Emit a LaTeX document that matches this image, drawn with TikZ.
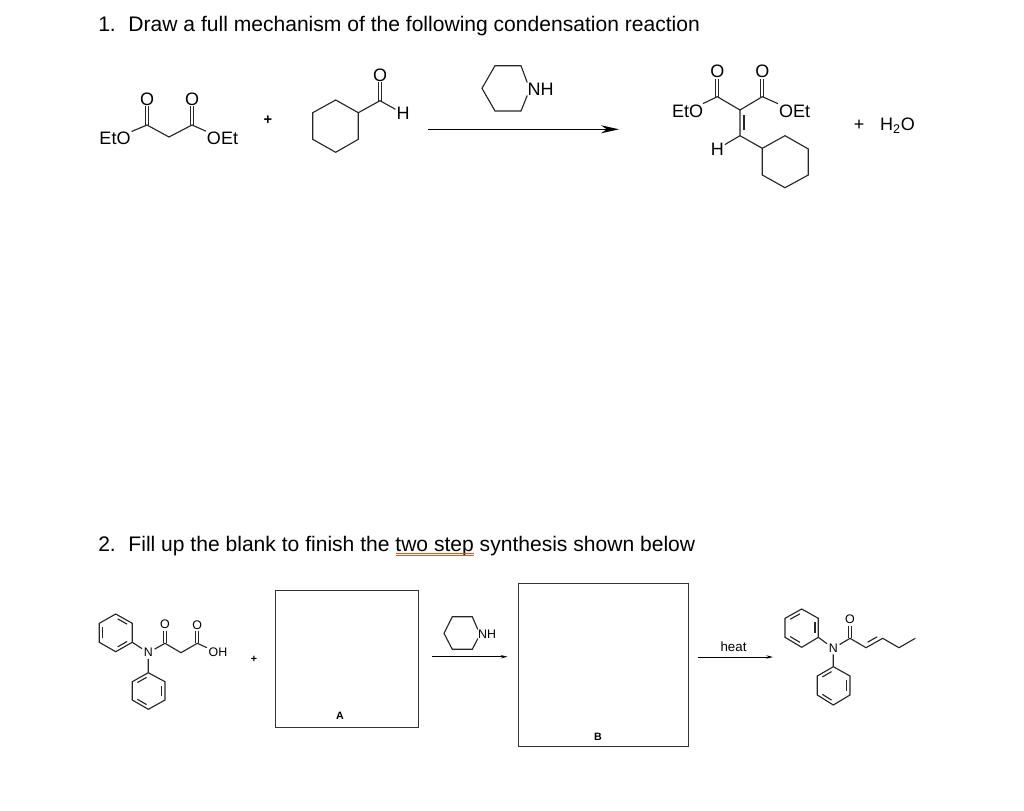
\documentclass[tikz,border=0pt]{standalone}
\usepackage{fontspec}
\setmainfont{Liberation Sans}
\usetikzlibrary{arrows.meta,calc,positioning}
\definecolor{spellred}{RGB}{215,90,30}
\tikzset{
    bond/.style={line width=0.85pt, black!85},
    dblbond/.style={line width=0.7pt, black!85, double, double distance=1.6pt},
    atom/.style={inner sep=0.6pt, font=\fontsize{13.5}{14}\selectfont},
    smallatom/.style={inner sep=1.2pt, font=\fontsize{9.3}{10}\selectfont},
    heading/.style={anchor=west, inner sep=0pt, font=\fontsize{15.8}{17}\selectfont},
    blankbox/.style={draw=black!80, line width=0.85pt, inner sep=0pt, anchor=north west},
    boxlabel/.style={inner sep=0pt, font=\bfseries\fontsize{8}{9}\selectfont},
    bigarrow/.style={line width=1pt, -{Stealth[length=13.5pt,width=6pt]}},
    smallarrow/.style={line width=0.7pt, -{Stealth[length=5pt,width=2.5pt]}},
}
% inner line of a double bond: ends, then the point it leans to
\newcommand{\innerbond}[3]{\draw[bond] ($(#1)!0.14!(#2)!0.2!(#3)$) -- ($(#2)!0.14!(#1)!0.2!(#3)$);}
\begin{document}
\begin{tikzpicture}[x=0.75pt,y=-0.75pt]
    \useasboundingbox (0,0) rectangle (1024,810);

    \node[heading] (title1) at (98,26.5) {1.\hspace{0.6em}Draw a full mechanism of the following condensation reaction};
    \node[heading] (title2) at (98,546) {2.\hspace{0.6em}Fill up the blank to finish the two step synthesis shown below};
    \draw[spellred, line width=0.8pt] (396,553.4) -- (474,553.4);
    \draw[spellred, line width=0.8pt] (396,555.6) -- (474,555.6);

    % malonate
    \coordinate (mc1) at (147,125);
    \coordinate (mch) at (169,137);
    \coordinate (mc2) at (192,125);
    \node[atom] (mo1) at (147,99) {O};
    \node[atom] (mo2) at (192,99) {O};
    \node[atom] (meto) at (115,138.5) {EtO};
    \node[atom] (moet) at (222.5,138.5) {OEt};
    \draw[dblbond] (mc1) -- (mo1);
    \draw[dblbond] (mc2) -- (mo2);
    \draw[bond] (meto) -- (mc1) -- (mch) -- (mc2) -- (moet);
    \node[inner sep=0pt, font=\bfseries\fontsize{11}{12}\selectfont] (plus1) at (268,120) {+};

    % aldehyde
    \coordinate (a1) at (335.7,100);
    \coordinate (a2) at (358.3,112.7);
    \coordinate (a3) at (358.3,139.3);
    \coordinate (a4) at (335.7,152.3);
    \coordinate (a5) at (312.7,139.3);
    \coordinate (a6) at (312.7,112.7);
    \coordinate (ac) at (380,100.7);
    \node[atom] (ao) at (380,75) {O};
    \node[atom] (ah) at (403,113.5) {H};
    \draw[dblbond] (ac) -- (ao);
    \draw[bond] (a1) -- (a2) -- (a3) -- (a4) -- (a5) -- (a6) -- cycle;
    \draw[bond] (a2) -- (ac) -- (ah);

    % piperidine, top arrow
    \coordinate (p1) at (495,65.7);
    \coordinate (p2) at (521,65.7);
    \coordinate (p3) at (521,111);
    \coordinate (p4) at (495,111);
    \coordinate (p5) at (482,88.3);
    \node[atom, inner sep=0pt] (pnh) at (540.5,89) {NH};
    \draw[bond] (pnh.north west) -- (p2) -- (p1) -- (p5) -- (p4) -- (p3) -- (pnh.south west);
    \coordinate (arr1s) at (428,129.3);
    \coordinate (arr1e) at (619,129.3);
    \draw[bigarrow] (arr1s) -- (arr1e);

    % product of reaction 1
    \coordinate (bc1) at (717.3,96.7);
    \coordinate (bc2) at (762.3,96.7);
    \coordinate (bc3) at (740,110);
    \coordinate (bc4) at (740,135.7);
    \coordinate (bref) at (760,123);
    \node[atom] (bo1) at (717.3,71.7) {O};
    \node[atom] (bo2) at (762.3,71.7) {O};
    \node[atom] (beto) at (687.5,111) {EtO};
    \node[atom] (boet) at (794.5,111) {OEt};
    \node[atom] (bh) at (717.3,149) {H};
    \coordinate (r1) at (762.3,148.3);
    \coordinate (r2) at (785,135.7);
    \coordinate (r3) at (808.3,149);
    \coordinate (r4) at (808.3,175);
    \coordinate (r5) at (785,187.7);
    \coordinate (r6) at (762.3,175);
    \draw[dblbond] (bc1) -- (bo1);
    \draw[dblbond] (bc2) -- (bo2);
    \draw[bond] (beto) -- (bc1) -- (bc3) -- (bc2) -- (boet);
    \draw[bond] (bc3) -- (bc4) -- (bh);
    \innerbond{bc3}{bc4}{bref}
    \draw[bond] (bc4) -- (r1);
    \draw[bond] (r1) -- (r2) -- (r3) -- (r4) -- (r5) -- (r6) -- cycle;
    \node[atom] (plus2) at (859,125.5) {+};
    \node[atom] (water) at (897.5,125.5) {H\textsubscript{2}O};

    % amide acid
    \coordinate (l1) at (115.7,614);
    \coordinate (l2) at (132.3,623.3);
    \coordinate (l3) at (132.3,642.3);
    \coordinate (l4) at (115.7,651.7);
    \coordinate (l5) at (99.3,642.3);
    \coordinate (l6) at (99.3,623.3);
    \coordinate (lc) at (115.8,632.8);
    \draw[bond] (l1) -- (l2) -- (l3) -- (l4) -- (l5) -- (l6) -- cycle;
    \innerbond{l1}{l2}{lc}
    \innerbond{l3}{l4}{lc}
    \innerbond{l5}{l6}{lc}
    \coordinate (m1) at (148.3,672.7);
    \coordinate (m2) at (165,681.7);
    \coordinate (m3) at (165,700);
    \coordinate (m4) at (148.3,709.3);
    \coordinate (m5) at (132.3,700);
    \coordinate (m6) at (132.3,681.7);
    \coordinate (mc) at (148.6,691);
    \draw[bond] (m1) -- (m2) -- (m3) -- (m4) -- (m5) -- (m6) -- cycle;
    \innerbond{m2}{m3}{mc}
    \innerbond{m4}{m5}{mc}
    \innerbond{m6}{m1}{mc}
    \node[smallatom] (ln) at (148.3,652.7) {N};
    \coordinate (lc1) at (165,643.3);
    \coordinate (lch) at (181,652.7);
    \coordinate (lc2) at (197.3,643.3);
    \node[smallatom] (lo1) at (165,624.3) {O};
    \node[smallatom] (lo2) at (197.3,625) {O};
    \node[smallatom] (loh) at (218,652.7) {OH};
    \draw[dblbond] (lc1) -- (lo1);
    \draw[dblbond] (lc2) -- (lo2);
    \draw[bond] (l3) -- (ln) -- (m1);
    \draw[bond] (ln) -- (lc1) -- (lch) -- (lc2) -- (loh);
    \node[inner sep=0pt, font=\bfseries\fontsize{8}{9}\selectfont] (plus3) at (254,659) {+};

    % boxes to fill
    \node[blankbox, minimum width=107.25pt, minimum height=102.75pt] (boxa) at (275,590) {};
    \node[boxlabel] (laba) at (340,716) {A};
    \node[blankbox, minimum width=127.5pt, minimum height=122.25pt] (boxb) at (518,583) {};
    \node[boxlabel] (labb) at (598,737) {B};

    % piperidine, lower arrows
    \coordinate (q1) at (452.3,616.7);
    \coordinate (q2) at (472.3,616.7);
    \coordinate (q3) at (472.3,649.3);
    \coordinate (q4) at (452.3,649.3);
    \coordinate (q5) at (444,633.3);
    \node[smallatom, inner sep=0pt] (qnh) at (487,634) {NH};
    \draw[bond] (qnh.north west) -- (q2) -- (q1) -- (q5) -- (q4) -- (q3) -- (qnh.south west);
    \coordinate (arr2s) at (432,656.7);
    \coordinate (arr2e) at (507.5,656.7);
    \draw[smallarrow] (arr2s) -- (arr2e);
    \coordinate (arr3s) at (698,657);
    \coordinate (arr3e) at (773,657);
    \draw[smallarrow] (arr3s) -- (arr3e);
    \node[smallatom, font=\fontsize{10}{11}\selectfont] (heat) at (733.5,646.5) {heat};

    % final amide
    \coordinate (u1) at (801.7,609);
    \coordinate (u2) at (818.3,618.3);
    \coordinate (u3) at (818.3,637.3);
    \coordinate (u4) at (801.7,647.3);
    \coordinate (u5) at (785,637.3);
    \coordinate (u6) at (785,618.3);
    \coordinate (uc) at (801.7,628);
    \draw[bond] (u1) -- (u2) -- (u3) -- (u4) -- (u5) -- (u6) -- cycle;
    \innerbond{u6}{u1}{uc}
    \innerbond{u2}{u3}{uc}
    \innerbond{u4}{u5}{uc}
    \coordinate (w1) at (833.3,666.7);
    \coordinate (w2) at (850,676);
    \coordinate (w3) at (850,695);
    \coordinate (w4) at (833.3,705);
    \coordinate (w5) at (817.3,695);
    \coordinate (w6) at (817.3,676);
    \coordinate (wc) at (833.5,686);
    \draw[bond] (w1) -- (w2) -- (w3) -- (w4) -- (w5) -- (w6) -- cycle;
    \innerbond{w2}{w3}{wc}
    \innerbond{w4}{w5}{wc}
    \innerbond{w6}{w1}{wc}
    \node[smallatom] (un) at (833.3,648.3) {N};
    \coordinate (uc1) at (850,638.3);
    \node[smallatom] (uo) at (850,619.3) {O};
    \coordinate (uc2) at (866,647.7);
    \coordinate (uc3) at (882.7,638.3);
    \coordinate (uc4) at (899,647.7);
    \coordinate (uc5) at (915.3,638.3);
    \coordinate (uref) at (864.4,625.6);
    \draw[dblbond] (uc1) -- (uo);
    \draw[bond] (u3) -- (un) -- (w1);
    \draw[bond] (un) -- (uc1) -- (uc2) -- (uc3) -- (uc4) -- (uc5);
    \innerbond{uc2}{uc3}{uref}
\end{tikzpicture}
\end{document}
